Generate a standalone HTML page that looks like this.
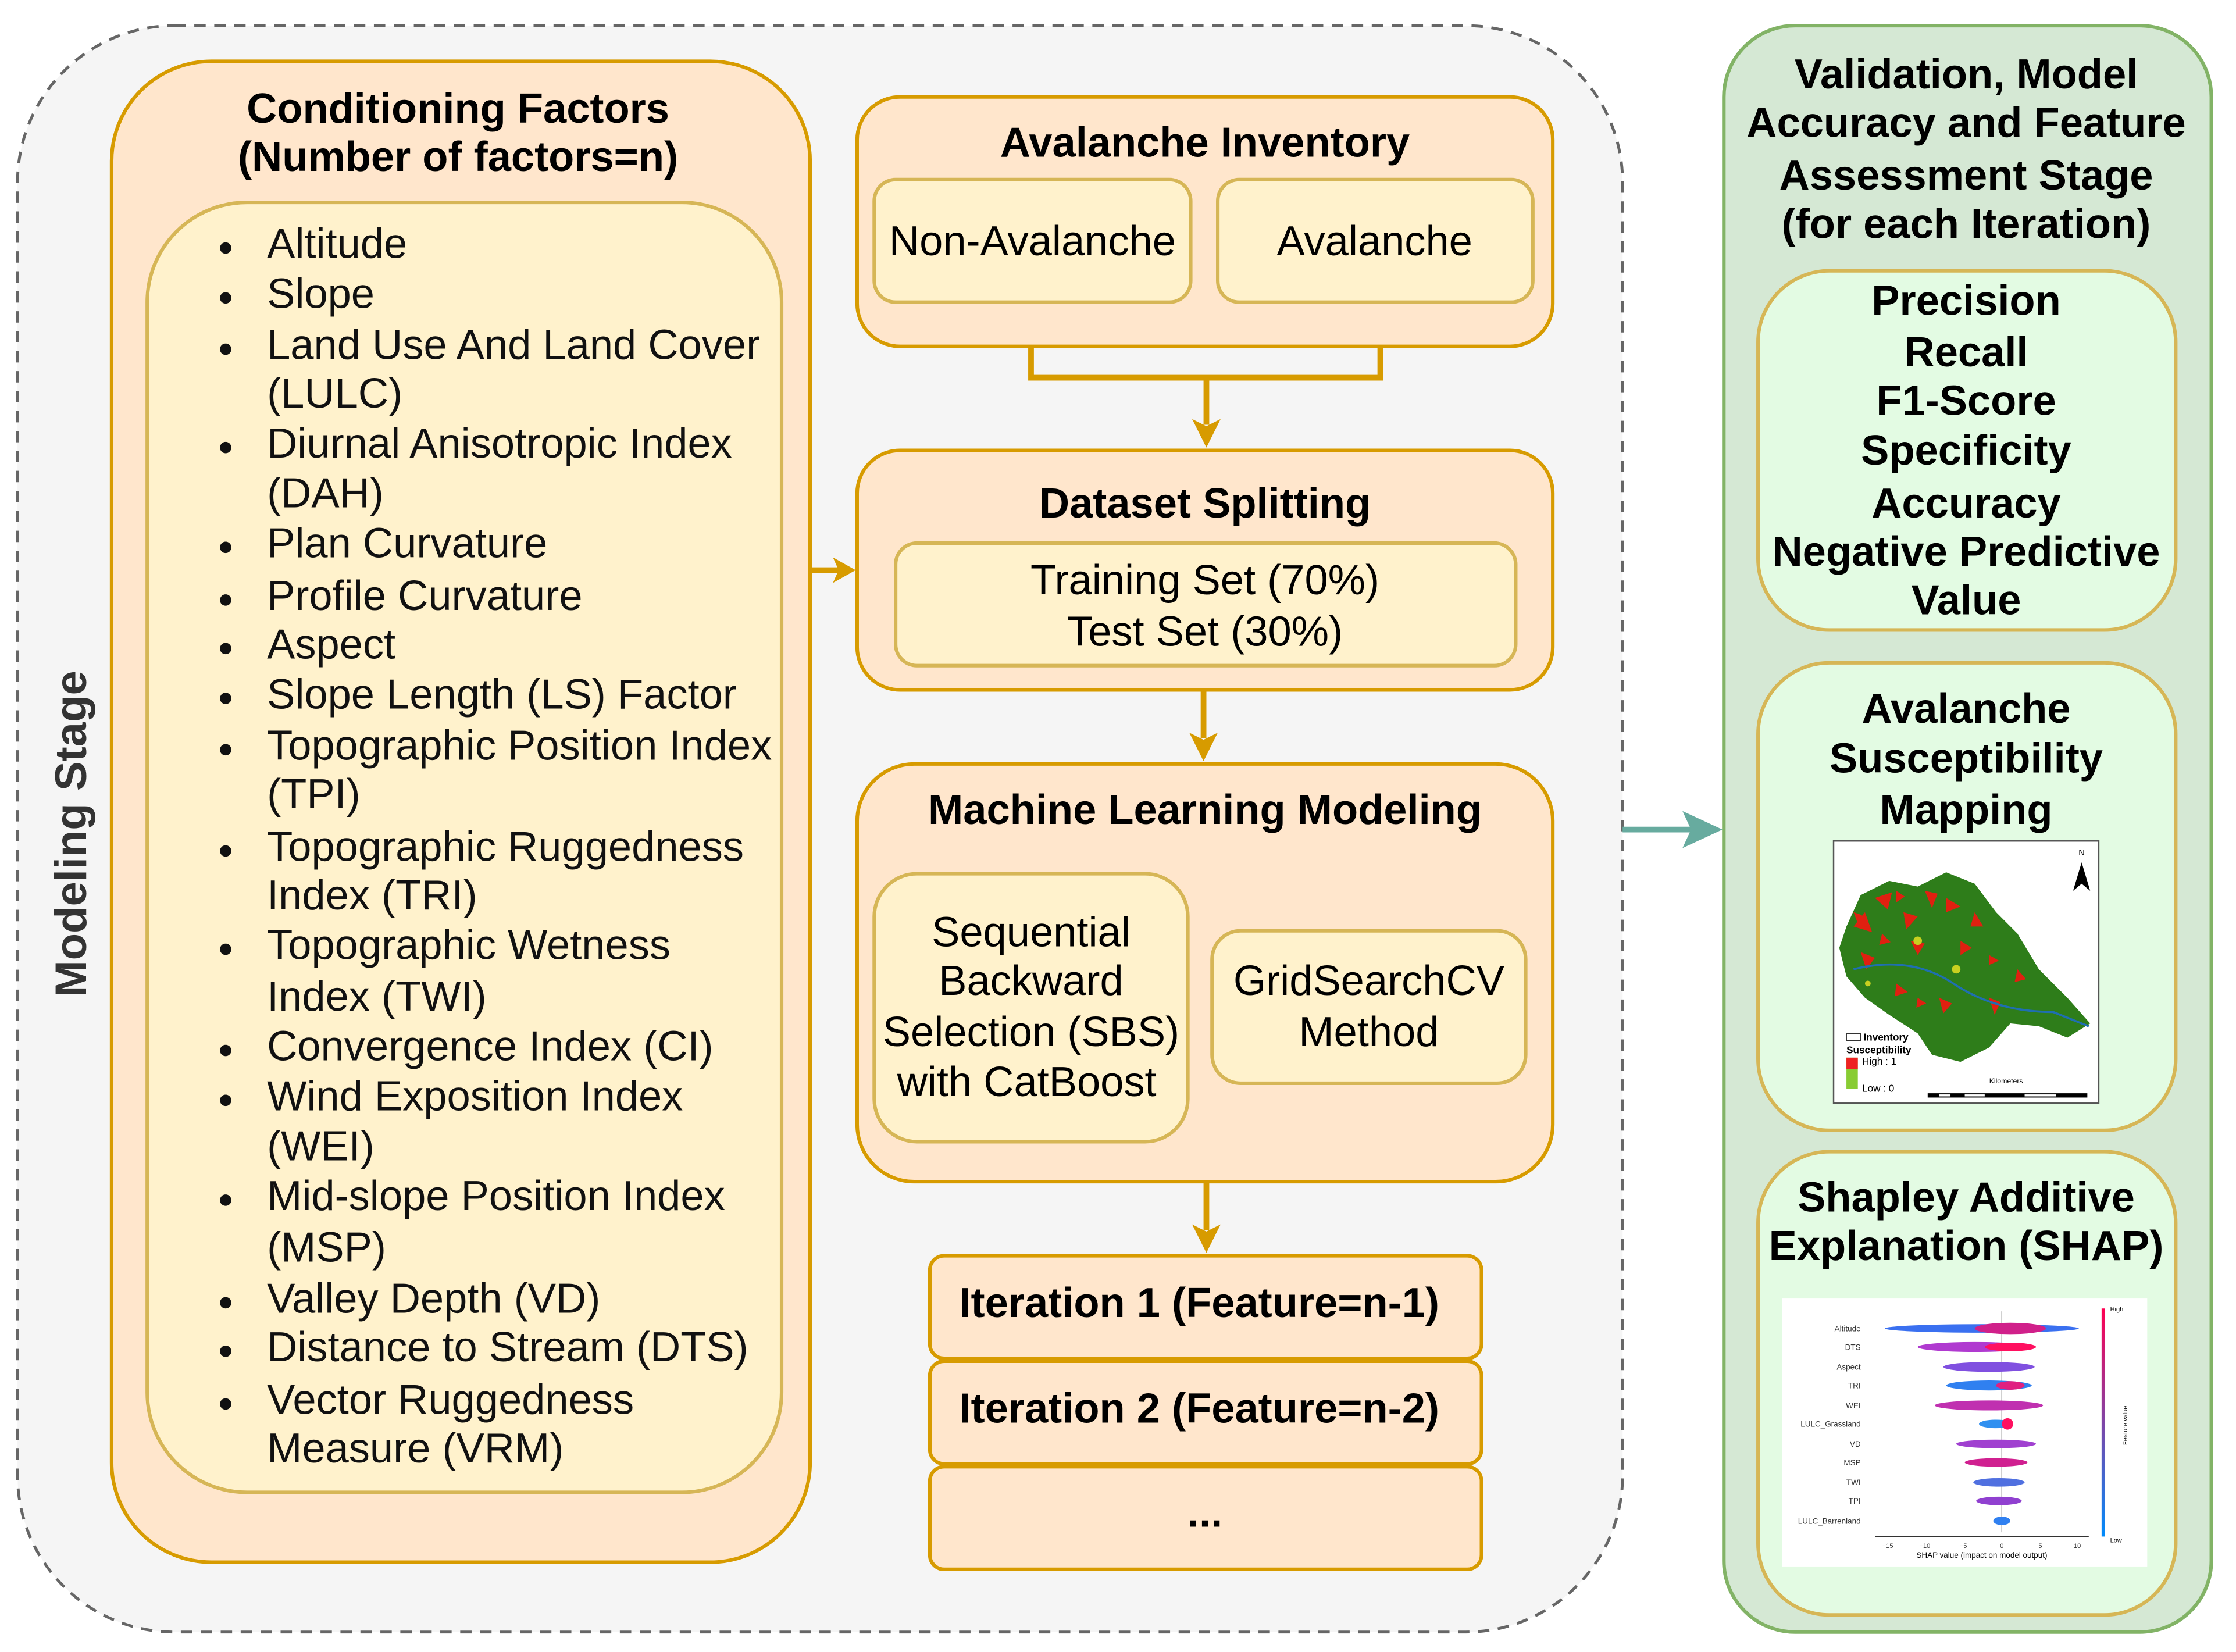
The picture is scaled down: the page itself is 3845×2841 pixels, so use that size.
<!DOCTYPE html>
<html><head><meta charset="utf-8"><style>
html,body{margin:0;padding:0;background:#fff}
svg{display:block}
text{font-family:"Liberation Sans",Arial,sans-serif}
</style></head><body>
<svg width="3845" height="2841" viewBox="0 0 1568 1159" xmlns="http://www.w3.org/2000/svg">
<rect width="1568" height="1159" fill="#fff"/>
<rect x="12" y="18" width="1126" height="1127" rx="110" fill="#f5f5f5" stroke="#666" stroke-width="2" stroke-dasharray="8,6"/>
<text x="60" y="585" transform="rotate(-90 60 585)" text-anchor="middle" font-size="31" font-weight="bold" fill="#333">Modeling Stage</text>

<rect x="78" y="43" width="490" height="1053" rx="70" fill="#ffe6cc" stroke="#d79b00" stroke-width="2.5"/>
<text x="321" y="86" text-anchor="middle" font-size="29.5" font-weight="bold">Conditioning Factors</text>
<text x="321" y="120" text-anchor="middle" font-size="29.5" font-weight="bold">(Number of factors=n)</text>
<rect x="103" y="142" width="445" height="905" rx="70" fill="#fff2cc" stroke="#d6b656" stroke-width="2.5"/>
<g font-size="29.5" fill="#111">
<text x="187" y="181">Altitude</text>
<text x="187" y="216">Slope</text>
<text x="187" y="252">Land Use And Land Cover</text>
<text x="187" y="286">(LULC)</text>
<text x="187" y="321">Diurnal Anisotropic Index</text>
<text x="187" y="356">(DAH)</text>
<text x="187" y="391">Plan Curvature</text>
<text x="187" y="428">Profile Curvature</text>
<text x="187" y="462">Aspect</text>
<text x="187" y="497">Slope Length (LS) Factor</text>
<text x="187" y="533">Topographic Position Index</text>
<text x="187" y="567">(TPI)</text>
<text x="187" y="604">Topographic Ruggedness</text>
<text x="187" y="638">Index (TRI)</text>
<text x="187" y="673">Topographic Wetness</text>
<text x="187" y="709">Index (TWI)</text>
<text x="187" y="744">Convergence Index (CI)</text>
<text x="187" y="779">Wind Exposition Index</text>
<text x="187" y="814">(WEI)</text>
<text x="187" y="849">Mid-slope Position Index</text>
<text x="187" y="885">(MSP)</text>
<text x="187" y="921">Valley Depth (VD)</text>
<text x="187" y="955">Distance to Stream (DTS)</text>
<text x="187" y="992">Vector Ruggedness</text>
<text x="187" y="1026">Measure (VRM)</text>
</g>
<g fill="#111">
<circle cx="158" cy="174" r="4"/><circle cx="158" cy="209" r="4"/><circle cx="158" cy="245" r="4"/>
<circle cx="158" cy="314" r="4"/><circle cx="158" cy="384" r="4"/><circle cx="158" cy="421" r="4"/>
<circle cx="158" cy="455" r="4"/><circle cx="158" cy="490" r="4"/><circle cx="158" cy="526" r="4"/>
<circle cx="158" cy="597" r="4"/><circle cx="158" cy="666" r="4"/><circle cx="158" cy="737" r="4"/>
<circle cx="158" cy="772" r="4"/><circle cx="158" cy="842" r="4"/><circle cx="158" cy="914" r="4"/>
<circle cx="158" cy="948" r="4"/><circle cx="158" cy="985" r="4"/>
</g>

<line x1="568" y1="400" x2="588" y2="400" stroke="#d79b00" stroke-width="4"/>
<polygon points="600,400 584,391 588,400 584,409" fill="#d79b00"/>

<rect x="601" y="68" width="488" height="175" rx="30" fill="#ffe6cc" stroke="#d79b00" stroke-width="2.5"/>
<text x="845" y="110" text-anchor="middle" font-size="29.5" font-weight="bold">Avalanche Inventory</text>
<rect x="613" y="126" width="222" height="86" rx="15" fill="#fff2cc" stroke="#d6b656" stroke-width="2.5"/>
<text x="724" y="179" text-anchor="middle" font-size="29.5">Non-Avalanche</text>
<rect x="854" y="126" width="221" height="86" rx="15" fill="#fff2cc" stroke="#d6b656" stroke-width="2.5"/>
<text x="964" y="179" text-anchor="middle" font-size="29.5">Avalanche</text>
<path d="M723,243 V265 H968 V243" fill="none" stroke="#d79b00" stroke-width="4"/>
<line x1="846" y1="265" x2="846" y2="298" stroke="#d79b00" stroke-width="4"/>
<polygon points="846,314 836,294 846,299 856,294" fill="#d79b00"/>

<rect x="601" y="316" width="488" height="168" rx="30" fill="#ffe6cc" stroke="#d79b00" stroke-width="2.5"/>
<text x="845" y="363" text-anchor="middle" font-size="29.5" font-weight="bold">Dataset Splitting</text>
<rect x="628" y="381" width="435" height="86" rx="15" fill="#fff2cc" stroke="#d6b656" stroke-width="2.5"/>
<text x="845" y="417" text-anchor="middle" font-size="29.5">Training Set (70%)</text>
<text x="845" y="453" text-anchor="middle" font-size="29.5">Test Set (30%)</text>
<line x1="844" y1="484" x2="844" y2="518" stroke="#d79b00" stroke-width="4"/>
<polygon points="844,534 834,514 844,519 854,514" fill="#d79b00"/>

<rect x="601" y="536" width="488" height="293" rx="40" fill="#ffe6cc" stroke="#d79b00" stroke-width="2.5"/>
<text x="845" y="578" text-anchor="middle" font-size="29.5" font-weight="bold">Machine Learning Modeling</text>
<rect x="613" y="613" width="220" height="188" rx="30" fill="#fff2cc" stroke="#d6b656" stroke-width="2.5"/>
<g font-size="29.5" text-anchor="middle">
<text x="723" y="664">Sequential</text>
<text x="723" y="698">Backward</text>
<text x="723" y="734">Selection (SBS)</text>
<text x="720" y="769">with CatBoost</text>
</g>
<rect x="850" y="653" width="220" height="107" rx="20" fill="#fff2cc" stroke="#d6b656" stroke-width="2.5"/>
<text x="960" y="698" text-anchor="middle" font-size="29.5">GridSearchCV</text>
<text x="960" y="734" text-anchor="middle" font-size="29.5">Method</text>
<line x1="846" y1="829" x2="846" y2="863" stroke="#d79b00" stroke-width="4"/>
<polygon points="846,879 836,859 846,864 856,859" fill="#d79b00"/>

<rect x="652" y="881" width="387" height="72" rx="10" fill="#ffe6cc" stroke="#d79b00" stroke-width="2.5"/>
<text x="841" y="924" text-anchor="middle" font-size="29.5" font-weight="bold">Iteration 1 (Feature=n-1)</text>
<rect x="652" y="955" width="387" height="72" rx="10" fill="#ffe6cc" stroke="#d79b00" stroke-width="2.5"/>
<text x="841" y="998" text-anchor="middle" font-size="29.5" font-weight="bold">Iteration 2 (Feature=n-2)</text>
<rect x="652" y="1029" width="387" height="72" rx="10" fill="#ffe6cc" stroke="#d79b00" stroke-width="2.5"/>
<text x="845" y="1071" text-anchor="middle" font-size="29.5" font-weight="bold">...</text>

<line x1="1138" y1="582" x2="1190" y2="582" stroke="#67ab9f" stroke-width="4"/>
<polygon points="1208,582 1180,569 1186,582 1180,595" fill="#67ab9f"/>

<rect x="1209" y="18" width="342" height="1127" rx="50" fill="#d5e8d4" stroke="#82b366" stroke-width="2.5"/>
<g font-size="29.5" font-weight="bold" text-anchor="middle">
<text x="1379" y="62">Validation, Model</text>
<text x="1379" y="96">Accuracy and Feature</text>
<text x="1379" y="133">Assessment Stage</text>
<text x="1379" y="167">(for each Iteration)</text>
</g>
<rect x="1233" y="190" width="293" height="252" rx="50" fill="#e3fbe3" stroke="#d6b656" stroke-width="2.5"/>
<g font-size="29.5" font-weight="bold" text-anchor="middle">
<text x="1379" y="221">Precision</text>
<text x="1379" y="257">Recall</text>
<text x="1379" y="291">F1-Score</text>
<text x="1379" y="326">Specificity</text>
<text x="1379" y="363">Accuracy</text>
<text x="1379" y="397">Negative Predictive</text>
<text x="1379" y="431">Value</text>
</g>
<rect x="1233" y="465" width="293" height="328" rx="50" fill="#e3fbe3" stroke="#d6b656" stroke-width="2.5"/>
<g font-size="29.5" font-weight="bold" text-anchor="middle">
<text x="1379" y="507">Avalanche</text>
<text x="1379" y="542">Susceptibility</text>
<text x="1379" y="578">Mapping</text>
</g>
<rect x="1286" y="590" width="186" height="184" fill="#fff" stroke="#555" stroke-width="1"/>
<path d="M1295,650 L1305,628 L1325,618 L1345,622 L1365,612 L1385,620 L1400,640 L1415,655 L1430,680 L1450,700 L1466,718 L1450,728 L1430,720 L1410,718 L1395,735 L1375,745 L1355,740 L1345,725 L1325,712 L1308,700 L1295,685 L1290,665 Z" fill="#2e7d1a"/>
<g fill="#e02010">
<path d="M1300,650 l8,-10 l5,14 z"/><path d="M1315,630 l12,-4 l-3,12 z"/><path d="M1335,640 l10,3 l-8,9 z"/>
<path d="M1350,625 l9,2 l-4,10 z"/><path d="M1365,630 l10,6 l-10,4 z"/><path d="M1385,640 l6,10 l-9,0 z"/>
<path d="M1305,668 l10,4 l-6,8 z"/><path d="M1330,690 l8,6 l-9,3 z"/><path d="M1360,700 l9,4 l-6,7 z"/>
<path d="M1395,700 l8,3 l-4,9 z"/><path d="M1415,680 l6,7 l-8,2 z"/><path d="M1320,655 l6,6 l-8,2 z"/>
<path d="M1340,660 l10,2 l-5,8 z"/><path d="M1375,660 l8,5 l-8,5 z"/><path d="M1300,640 l6,2 l-3,6 z"/>
<path d="M1330,625 l6,4 l-6,4 z"/><path d="M1395,670 l7,4 l-7,3 z"/><path d="M1345,700 l6,4 l-7,3 z"/>
</g>
<g fill="#c8d020"><circle cx="1345" cy="660" r="3"/><circle cx="1372" cy="680" r="3"/><circle cx="1310" cy="690" r="2"/></g>
<path d="M1300,680 Q1340,670 1370,690 T1440,710 L1465,720" fill="none" stroke="#1f6fb0" stroke-width="1.5"/>
<polygon points="1460,605 1454,625 1460,620 1466,625" fill="#000"/>
<text x="1460" y="600" font-size="6" text-anchor="middle">N</text>
<rect x="1295" y="725" width="10" height="5" fill="#fff" stroke="#333" stroke-width="0.7"/>
<text x="1307" y="730" font-size="7" font-weight="bold">Inventory</text>
<text x="1295" y="739" font-size="7" font-weight="bold">Susceptibility</text>
<rect x="1295" y="742" width="8" height="22" fill="#8c3"/>
<rect x="1295" y="742" width="8" height="8" fill="#e22"/>
<text x="1306" y="747" font-size="7">High : 1</text>
<text x="1306" y="766" font-size="7">Low : 0</text>
<text x="1407" y="760" font-size="5" text-anchor="middle">Kilometers</text>
<rect x="1352" y="767" width="112" height="3" fill="#000"/>
<g fill="#fff"><rect x="1360" y="767.8" width="8" height="1.4"/><rect x="1378" y="767.8" width="14" height="1.4"/><rect x="1420" y="767.8" width="22" height="1.4"/></g>

<rect x="1233" y="808" width="293" height="325" rx="50" fill="#e3fbe3" stroke="#d6b656" stroke-width="2.5"/>
<text x="1379" y="850" text-anchor="middle" font-size="29.5" font-weight="bold">Shapley Additive</text>
<text x="1379" y="884" text-anchor="middle" font-size="29.5" font-weight="bold">Explanation (SHAP)</text>
<rect x="1250" y="911" width="256" height="188" fill="#fff"/>
<line x1="1404" y1="920" x2="1404" y2="1075" stroke="#999" stroke-width="0.6"/>
<line x1="1315" y1="1078" x2="1465" y2="1078" stroke="#333" stroke-width="0.6"/>
<g font-size="5.5" text-anchor="end" fill="#333">
<text x="1305" y="934">Altitude</text><text x="1305" y="947">DTS</text><text x="1305" y="961">Aspect</text>
<text x="1305" y="974">TRI</text><text x="1305" y="988">WEI</text><text x="1305" y="1001">LULC_Grassland</text>
<text x="1305" y="1015">VD</text><text x="1305" y="1028">MSP</text><text x="1305" y="1042">TWI</text>
<text x="1305" y="1055">TPI</text><text x="1305" y="1069">LULC_Barrenland</text>
</g>
<g>
<ellipse cx="1390" cy="932" rx="68" ry="3" fill="#3a70f0"/><ellipse cx="1410" cy="932" rx="25" ry="4" fill="#d0208a"/>
<ellipse cx="1385" cy="945" rx="40" ry="3.5" fill="#b03ad0"/><ellipse cx="1410" cy="945" rx="18" ry="3" fill="#ff1060"/>
<ellipse cx="1395" cy="959" rx="32" ry="3.5" fill="#8050e0"/>
<ellipse cx="1395" cy="972" rx="30" ry="3.5" fill="#3080f0"/><ellipse cx="1410" cy="972" rx="10" ry="3" fill="#e02080"/>
<ellipse cx="1395" cy="986" rx="38" ry="3.5" fill="#c030b0"/>
<ellipse cx="1400" cy="999" rx="12" ry="3" fill="#3090f0"/><ellipse cx="1408" cy="999" rx="4" ry="4" fill="#ff1060"/>
<ellipse cx="1400" cy="1013" rx="28" ry="3" fill="#a040d0"/>
<ellipse cx="1400" cy="1026" rx="22" ry="3" fill="#d02090"/>
<ellipse cx="1402" cy="1040" rx="18" ry="3" fill="#5070e0"/>
<ellipse cx="1402" cy="1053" rx="16" ry="3" fill="#9040d0"/>
<ellipse cx="1404" cy="1067" rx="6" ry="3" fill="#3080f0"/>
</g>
<defs><linearGradient id="cb" x1="0" y1="0" x2="0" y2="1"><stop offset="0" stop-color="#ff0052"/><stop offset="1" stop-color="#008bfb"/></linearGradient></defs>
<rect x="1474" y="918" width="2.5" height="160" fill="url(#cb)"/>
<text x="1480" y="920" font-size="4.5">High</text><text x="1480" y="1082" font-size="4.5">Low</text>
<text x="1492" y="1000" font-size="4.5" transform="rotate(-90 1492 1000)" text-anchor="middle">Feature value</text>
<g font-size="4.5" text-anchor="middle" fill="#333">
<text x="1324" y="1086">−15</text><text x="1350" y="1086">−10</text><text x="1377" y="1086">−5</text><text x="1404" y="1086">0</text><text x="1431" y="1086">5</text><text x="1457" y="1086">10</text>
</g>
<text x="1390" y="1093" font-size="5.5" text-anchor="middle">SHAP value (impact on model output)</text>
</svg>
</body></html>
